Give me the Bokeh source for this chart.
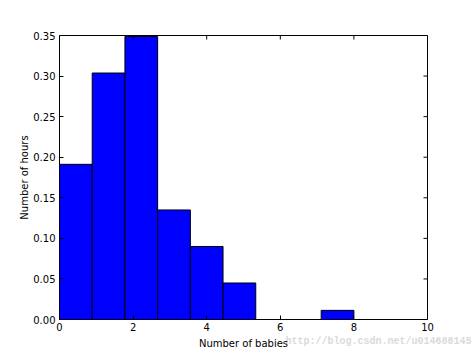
import math
from bokeh.plotting import figure
from bokeh.models import FixedTicker, Range1d, LinearAxis
from bokeh.embed import file_html
from bokeh.resources import INLINE

# Histogram data
bin_edges = [0.0, 0.889, 1.778, 2.667, 3.556, 4.444, 5.333, 6.222, 7.111, 8.0]
densities = [0.19125, 0.30375, 0.34875, 0.135, 0.09, 0.045, 0.0, 0.0, 0.01125]
x_ticks = [0, 2, 4, 6, 8, 10]
y_ticks = [0.0, 0.05, 0.10, 0.15, 0.20, 0.25, 0.30, 0.35]
y_tick_labels = {0.0: "0.00", 0.05: "0.05", 0.10: "0.10", 0.15: "0.15",
                 0.20: "0.20", 0.25: "0.25", 0.30: "0.30", 0.35: "0.35"}
x_label = "Number of babies"
y_label = "Number of hours"
watermark = "http://blog.csdn.net/u014688145"
x_min, x_max = 0, 10
y_min, y_max = 0, 0.35

FONT = "DejaVu Sans"

p = figure(width=474, height=355, output_backend="svg", toolbar_location=None,
           x_range=Range1d(x_min, x_max), y_range=Range1d(y_min, y_max),
           min_border_left=59, min_border_right=47, min_border_top=35,
           min_border_bottom=36)
p.background_fill_color = "white"
p.border_fill_color = "white"
p.grid.visible = False
p.outline_line_color = "black"
p.outline_line_width = 1

lefts = bin_edges[:-1]
rights = bin_edges[1:]
p.quad(left=lefts, right=rights, bottom=[0] * len(densities), top=densities,
       fill_color="#0000ff", line_color="black", line_width=1)

for ax in (p.xaxis[0], p.yaxis[0]):
    ax.major_tick_in = 4
    ax.major_tick_out = 0
    ax.minor_tick_line_color = None
    ax.axis_line_color = None
    ax.major_label_text_font = FONT
    ax.major_label_text_font_size = "10px"
    ax.major_label_text_color = "black"
    ax.axis_label_text_font = FONT
    ax.axis_label_text_font_size = "10px"
    ax.axis_label_text_font_style = "normal"
    ax.axis_label_text_color = "black"

p.xaxis[0].ticker = FixedTicker(ticks=x_ticks)
p.yaxis[0].ticker = FixedTicker(ticks=y_ticks)
p.yaxis[0].major_label_overrides = y_tick_labels
p.yaxis[0].axis_label = y_label
p.xaxis[0].major_label_standoff = 3
p.yaxis[0].major_label_standoff = 4
p.yaxis[0].axis_label_standoff = 0

# second bottom axis: carries the x label and the faint watermark on one row
wm_pos = 8.67
ax2 = LinearAxis(ticker=FixedTicker(ticks=[wm_pos]),
                 major_label_overrides={wm_pos: watermark},
                 major_label_text_font="Liberation Mono",
                 major_label_text_font_size="10px",
                 major_label_text_font_style="bold",
                 major_label_text_color="#dadada",
                 major_label_standoff=2,
                 major_tick_in=0, major_tick_out=0,
                 major_tick_line_color=None, minor_tick_line_color=None,
                 axis_line_color=None,
                 axis_label=x_label, axis_label_standoff=-12,
                 axis_label_text_font=FONT, axis_label_text_font_size="10px",
                 axis_label_text_font_style="normal",
                 axis_label_text_color="black")
p.add_layout(ax2, "below")

# inward ticks on top and right frame edges (matplotlib classic style)
p.ray(x=x_ticks, y=[y_max] * len(x_ticks), length=4, length_units="screen",
      angle=-math.pi / 2, line_color="black", line_width=1)
p.ray(x=[x_max] * len(y_ticks), y=y_ticks, length=4, length_units="screen",
      angle=math.pi, line_color="black", line_width=1)

open("out.html", "w").write(file_html(p, INLINE))
